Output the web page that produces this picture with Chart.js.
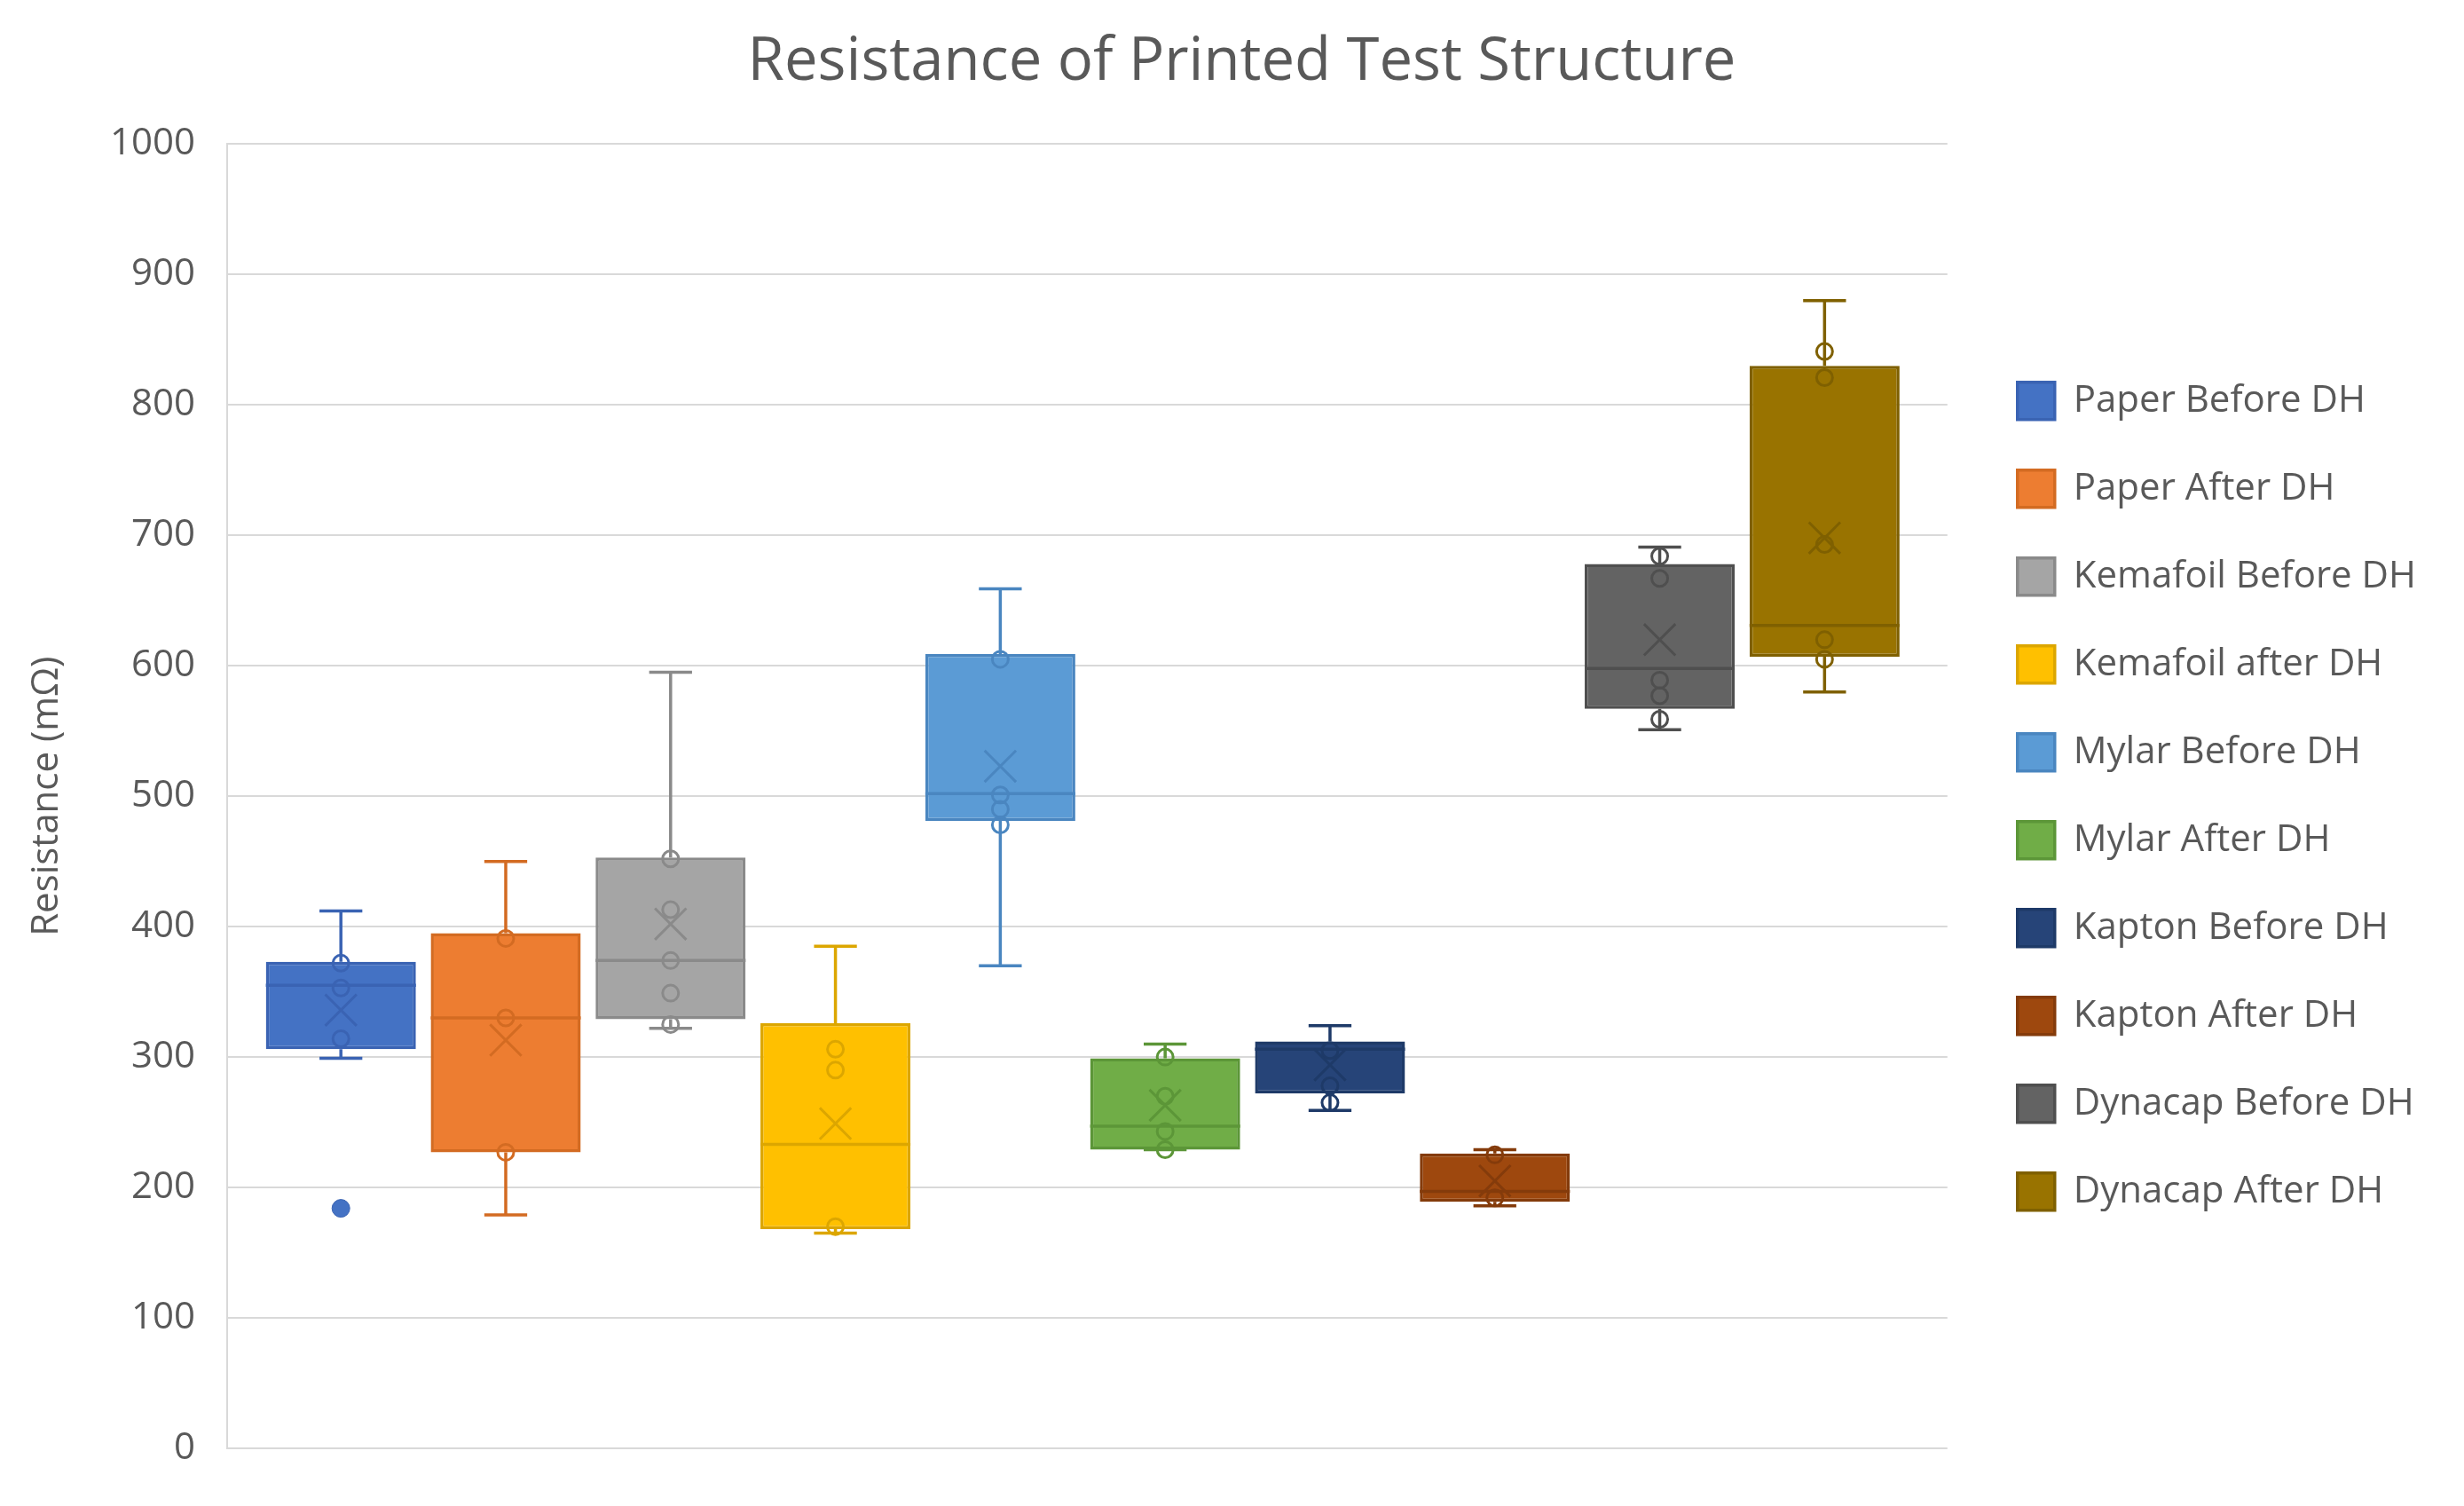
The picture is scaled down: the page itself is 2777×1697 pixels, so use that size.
<!DOCTYPE html>
<html>
<head>
<meta charset="utf-8">
<title>Resistance of Printed Test Structure</title>
<script src="https://cdn.jsdelivr.net/npm/chart.js@4.4.1/dist/chart.umd.min.js"></script>
<style>
    html, body {
        margin: 0;
        padding: 0;
        background: #ffffff;
    }
    #chart {
        display: block;
    }
</style>
</head>
<body>
<canvas id="chart" width="2777" height="1697"></canvas>
<script>
// ==================== ДАННЫЕ ====================

const seriesNames = [
    'Paper Before DH', 'Paper After DH',
    'Kemafoil Before DH', 'Kemafoil after DH',
    'Mylar Before DH', 'Mylar After DH',
    'Kapton Before DH', 'Kapton After DH',
    'Dynacap Before DH', 'Dynacap After DH'
];

const whiskerMin  = [299, 179, 322, 165, 370, 229, 259, 186, 551, 580];
const quartile1   = [306, 227, 329, 168, 481, 229, 272, 189, 567, 607];
const medians     = [355, 330, 374, 233, 502, 247, 306, 197, 598, 631];
const quartile3   = [373, 395, 453, 326, 609, 299, 312, 226, 678, 830];
const whiskerMax  = [412, 450, 595, 385, 659, 310, 324, 229, 691, 880];
const means       = [336, 313, 402, 249, 523, 263, 294, 205, 620, 698];

const innerPoints = [
    [372, 353, 314],
    [391, 330, 227],
    [452, 413, 374, 349, 325],
    [306, 290, 170],
    [605, 501, 490, 478],
    [300, 270, 243, 229],
    [305, 278, 265],
    [225, 192],
    [684, 667, 589, 577, 559],
    [841, 821, 693, 620, 605]
];

const outliers = [[184], [], [], [], [], [], [], [], [], []];

const yTicks = [0, 100, 200, 300, 400, 500, 600, 700, 800, 900, 1000];

// цвета серий (заливка и контур)
const fillColors = ['#4472C4', '#ED7D31', '#A5A5A5', '#FFC000', '#5B9BD5',
                    '#70AD47', '#264478', '#9E480E', '#636363', '#997300'];
const lineColors = ['#3a63b3', '#d36b22', '#8a8a8a', '#dca600', '#4a86c0',
                    '#5c9638', '#1e3a68', '#843b0b', '#4f4f4f', '#7f6000'];

// ==================== НАСТРОЙКИ ====================

const TEXT_COLOR = '#595959';
const GRID_COLOR = '#d9d9d9';
const BOX_HALF = 0.455;   // половина ширины ящика (в единицах оси X)
const CAP_HALF = 0.13;    // половина ширины "усов"

Chart.defaults.font.family = "'Open Sans', 'Noto Sans', sans-serif";
Chart.defaults.color = TEXT_COLOR;

/**
 * Линии усов, засечек и медианы одной серии
 */
function whiskerPath(i) {
    return [
        {x: i, y: quartile3[i]}, {x: i, y: whiskerMax[i]}, {x: i, y: null},
        {x: i - CAP_HALF, y: whiskerMax[i]}, {x: i + CAP_HALF, y: whiskerMax[i]}, {x: i, y: null},
        {x: i, y: quartile1[i]}, {x: i, y: whiskerMin[i]}, {x: i, y: null},
        {x: i - CAP_HALF, y: whiskerMin[i]}, {x: i + CAP_HALF, y: whiskerMin[i]}, {x: i, y: null},
        {x: i - BOX_HALF, y: medians[i]}, {x: i + BOX_HALF, y: medians[i]}
    ];
}

const datasets = [];

// ящики (плавающие столбцы) - они же идут в легенду
seriesNames.forEach((name, i) => {
    datasets.push({
        type: 'bar',
        label: name,
        data: [{x: i, y: [quartile1[i], quartile3[i]]}],
        backgroundColor: fillColors[i],
        borderColor: lineColors[i],
        borderWidth: 3.5,
        borderSkipped: false,
        grouped: false,
        barPercentage: BOX_HALF * 2,
        categoryPercentage: 1,
        order: 3
    });
});

// усы и медианы
seriesNames.forEach((name, i) => {
    datasets.push({
        type: 'line',
        label: name + ' whiskers',
        data: whiskerPath(i),
        borderColor: lineColors[i],
        borderWidth: 3.5,
        pointRadius: 0,
        spanGaps: false,
        tension: 0,
        order: 2
    });
});

// внутренние точки (полые кружки)
seriesNames.forEach((name, i) => {
    datasets.push({
        type: 'scatter',
        label: name + ' points',
        data: innerPoints[i].map(v => ({x: i, y: v})),
        pointStyle: 'circle',
        pointRadius: 9,
        pointBorderWidth: 3,
        pointBackgroundColor: 'rgba(0,0,0,0)',
        pointBorderColor: lineColors[i],
        order: 1
    });
});

// выбросы (закрашенные)
seriesNames.forEach((name, i) => {
    datasets.push({
        type: 'scatter',
        label: name + ' outliers',
        data: outliers[i].map(v => ({x: i, y: v})),
        pointStyle: 'circle',
        pointRadius: 10,
        pointBorderWidth: 1,
        pointBackgroundColor: fillColors[i],
        pointBorderColor: lineColors[i],
        order: 1
    });
});

// средние значения (крестик)
datasets.push({
    type: 'scatter',
    label: 'mean',
    data: means.map((m, i) => ({x: i, y: m})),
    pointStyle: 'crossRot',
    pointRadius: 25,
    pointBorderWidth: 3,
    pointBorderColor: lineColors,
    order: 0
});

// ==================== ГРАФИК ====================

new Chart(document.getElementById('chart'), {
    type: 'bar',
    data: {datasets: datasets},
    options: {
        responsive: false,
        animation: false,
        devicePixelRatio: 1,
        layout: {
            // слева отступ, чтобы заголовок был по центру холста
            padding: {top: 0, right: 44, bottom: 65, left: 66}
        },
        scales: {
            x: {
                type: 'linear',
                min: -0.69,
                max: 9.745,
                offset: false,
                display: false,
                grid: {display: false},
                // одна позиция на серию - от неё считается ширина ящиков
                afterBuildTicks: (scale) => {
                    scale.ticks = seriesNames.map((n, i) => ({value: i}));
                }
            },
            y: {
                type: 'linear',
                position: 'left',
                min: 0,
                max: 1000,
                afterBuildTicks: (scale) => {
                    scale.ticks = yTicks.map(v => ({value: v}));
                },
                ticks: {
                    color: TEXT_COLOR,
                    padding: 36,
                    font: {size: 42},
                    callback: (value) => String(value)
                },
                grid: {
                    color: GRID_COLOR,
                    lineWidth: 2,
                    drawTicks: false
                },
                border: {
                    color: GRID_COLOR,
                    width: 2
                },
                title: {
                    display: true,
                    text: 'Resistance (mΩ)',
                    color: TEXT_COLOR,
                    font: {size: 42},
                    padding: {top: -38, bottom: 0}
                },
                afterFit: (scale) => {
                    scale.width = 190;
                }
            },
            // пустая ось справа - отступ между областью графика и легендой
            gap: {
                type: 'linear',
                position: 'right',
                display: true,
                grid: {display: false, drawTicks: false},
                border: {display: false},
                ticks: {display: false},
                afterFit: (scale) => {
                    scale.width = 22;
                }
            }
        },
        plugins: {
            title: {
                display: true,
                text: 'Resistance of Printed Test Structure',
                color: TEXT_COLOR,
                font: {size: 67, weight: 'normal'},
                padding: {top: 31, bottom: 51}
            },
            legend: {
                position: 'right',
                fullSize: false,
                maxWidth: 700,
                labels: {
                    color: TEXT_COLOR,
                    font: {size: 42},
                    boxWidth: 42,
                    boxHeight: 42,
                    padding: 57,
                    filter: (item, data) => data.datasets[item.datasetIndex].type === 'bar'
                }
            },
            tooltip: {enabled: false}
        }
    }
});
</script>
</body>
</html>
